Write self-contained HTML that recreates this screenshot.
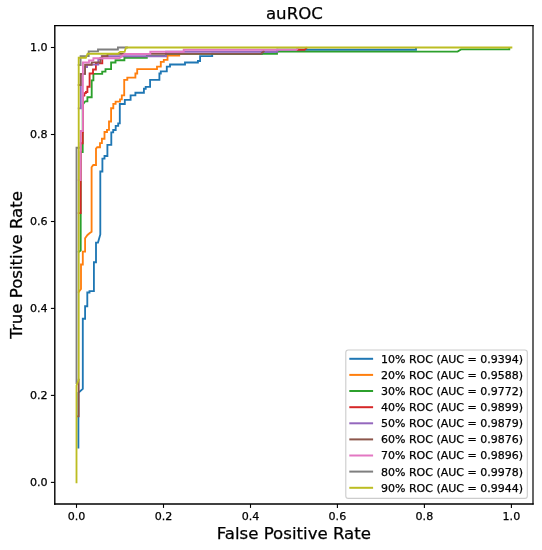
<!DOCTYPE html>
<html><head><meta charset="utf-8"><style>html,body{margin:0;padding:0;background:#fff;overflow:hidden}svg{display:block}text{stroke:#000;stroke-width:0.25px}</style></head><body>
<svg width="542" height="550" viewBox="0 0 542 550">
<rect width="542" height="550" fill="#fff"/>
<defs><clipPath id="ax"><rect x="54.8" y="25.7" width="478.2" height="478.3"/></clipPath></defs>
<g clip-path="url(#ax)" fill="none" stroke-width="1.85" stroke-linejoin="miter" stroke-linecap="square"><path d="M78.4,447.5 V392.7 L82.8,388.9 V318.7 H85.1 V306.2 H87.3 V292.5 H89.5 V291.1 H93.9 V262.2 H96 V242.6 H98 L100.3,234.4 V171.5 H102.4 V158.6 H104.5 V156 H107.4 V144.9 H111.3 V132.4 H113.2 V130 H115.7 V125.8 H118.2 V123.3 H119.8 V104 H124.8 V99.8 H130.6 V95.3 H135.4 V92.7 H143.9 V88.7 H145.7 V86.8 H150.1 V79.8 H159.4 V73.5 H160.8 V71.3 H166.8 V66.6 H170 V64.5 H185 V62.5 H197.9 V61 H200.1 V56.1 H212.2 V53.7 H262 V51.7 H277.3 V49.7 H416 V48.0" stroke="#1f77b4" /><path d="M78.7,292 L81,289 V264.5 H82.8 V251.6 H85.1 V238.3 L87.5,235 L89.5,233.3 L91.6,231.8 V167.3 L93.3,165 H96 V148.6 L97.2,147.2 H100 V143.1 H101.9 V138.7 H104.5 V132 H107 V129.8 H109 V121.5 H111.1 V108.2 H113.3 V103.8 H115.6 V101.6 H120 V99.4 H121.8 V95.3 H124.2 V79.9 H127.3 V77.6 H135.4 V73.5 H137.2 V69.1 H157 V66.6 H160.8 V61.8 H163.8 V59.9 H167.5 V55.5 H179.2 V53.7" stroke="#ff7f0e" /><path d="M78.7,252 L80.7,250.5 V152.1 H82.7 V104.8 L85.3,101.3 H87.4 V97.2 H91.7 V80.3 H93.4 V73.8 H102.2 V71.6 H105.5 V69.1 H111.1 V62.5 H115.5 V60.2 H124.4 V57.7 H146.8 V55.8 H166 V53.8 H277 V51.6 H457.6 L461,49.4 H509.3 V48.0" stroke="#2ca02c" /><path d="M78.7,213.1 H80.7 V143.2 H82.7 V132 H82.9 V96 L84.4,95.5 V93.1 H85.9 V92 H87.4 V86.7 H89.6 V73.5 H93 V69.5 H95.9 V63.3 H102.3 V58.2 M297,49.7 H304.6 L306.5,48.0" stroke="#d62728" /><path d="M78.7,108.3 H80.8 V73.8 H85.1 V67 H87.1 V64.6 H98.3 V59 H101.7 V56.2 H166 V51.7 H277.3 V49.7" stroke="#9467bd" /><path d="M77.6,416.4 H78.7 V379.6 M78.7,85 H80.7 V73.8 H85.1 V64.7 H91.7 V62.4 H100.4 V57.9 H102.2 V56.2 H107.5 V53.8 H261 L263.7,51.4" stroke="#8c564b" /><path d="M78.7,180.1 H80.7 V131 H82.9 V62.5 H89 V60.5 H93.4 V58.2 H119.4 L124.5,54 H150.3 V51.7 H183.7 V49.7 H296.5 L298.3,48.0" stroke="#e377c2" /><path d="M76.5,383 V147.7 H78.7 M78.7,65 H80.6 V56.1 H88.7 V51.4 H98 V49.5 H117.9 V47.45 H127" stroke="#7f7f7f" /><path d="M76.5,482.4 V385.6 L78.7,379.6 V57.7 H85.9 L87.6,53.7 H117.9 L120.1,51.8 H124.6 L126,47.45 H511.4" stroke="#bcbd22" /></g>
<g stroke="#000" stroke-linecap="square"><line x1="54.8" y1="25.7" x2="54.8" y2="504.0" stroke-width="1.4"/><line x1="533.0" y1="25.7" x2="533.0" y2="504.0" stroke-width="1.2"/><line x1="54.8" y1="25.7" x2="533.0" y2="25.7" stroke-width="1.3"/><line x1="54.8" y1="504.0" x2="533.0" y2="504.0" stroke-width="1.45"/></g>
<g stroke="#000" stroke-width="1.1"><line x1="76.5" y1="504.0" x2="76.5" y2="507.9"/><line x1="54.8" y1="482.4" x2="50.9" y2="482.4"/><line x1="163.5" y1="504.0" x2="163.5" y2="507.9"/><line x1="54.8" y1="395.4" x2="50.9" y2="395.4"/><line x1="250.5" y1="504.0" x2="250.5" y2="507.9"/><line x1="54.8" y1="308.4" x2="50.9" y2="308.4"/><line x1="337.4" y1="504.0" x2="337.4" y2="507.9"/><line x1="54.8" y1="221.5" x2="50.9" y2="221.5"/><line x1="424.4" y1="504.0" x2="424.4" y2="507.9"/><line x1="54.8" y1="134.5" x2="50.9" y2="134.5"/><line x1="511.4" y1="504.0" x2="511.4" y2="507.9"/><line x1="54.8" y1="47.5" x2="50.9" y2="47.5"/></g>
<g font-family='"DejaVu Sans", "Liberation Sans", sans-serif' font-size="11.1" fill="#000"><text x="76.5" y="520.2" text-anchor="middle">0.0</text><text x="47.6" y="486.3" text-anchor="end">0.0</text><text x="163.5" y="520.2" text-anchor="middle">0.2</text><text x="47.6" y="399.3" text-anchor="end">0.2</text><text x="250.5" y="520.2" text-anchor="middle">0.4</text><text x="47.6" y="312.3" text-anchor="end">0.4</text><text x="337.4" y="520.2" text-anchor="middle">0.6</text><text x="47.6" y="225.4" text-anchor="end">0.6</text><text x="424.4" y="520.2" text-anchor="middle">0.8</text><text x="47.6" y="138.4" text-anchor="end">0.8</text><text x="511.4" y="520.2" text-anchor="middle">1.0</text><text x="47.6" y="51.4" text-anchor="end">1.0</text></g>
<text x="294.4" y="19.2" text-anchor="middle" font-family='"DejaVu Sans", "Liberation Sans", sans-serif' font-size="16.6">auROC</text>
<text x="293.9" y="539.1" text-anchor="middle" font-family='"DejaVu Sans", "Liberation Sans", sans-serif' font-size="16.6">False Positive Rate</text>
<text transform="translate(21.8,264.9) rotate(-90)" x="0" y="0" text-anchor="middle" font-family='"DejaVu Sans", "Liberation Sans", sans-serif' font-size="16.6">True Positive Rate</text>
<rect x="345.8" y="350.0" width="181.49999999999994" height="148.39999999999998" rx="2.5" fill="#fff" fill-opacity="0.8" stroke="#ccc" stroke-width="1.1"/>
<line x1="349.3" y1="358.8" x2="373.1" y2="358.8" stroke="#1f77b4" stroke-width="2.0"/><text x="381.0" y="362.7" font-family='"DejaVu Sans", "Liberation Sans", sans-serif' font-size="11" fill="#000">10% ROC (AUC = 0.9394)</text><line x1="349.3" y1="374.9" x2="373.1" y2="374.9" stroke="#ff7f0e" stroke-width="2.0"/><text x="381.0" y="378.8" font-family='"DejaVu Sans", "Liberation Sans", sans-serif' font-size="11" fill="#000">20% ROC (AUC = 0.9588)</text><line x1="349.3" y1="391.0" x2="373.1" y2="391.0" stroke="#2ca02c" stroke-width="2.0"/><text x="381.0" y="394.9" font-family='"DejaVu Sans", "Liberation Sans", sans-serif' font-size="11" fill="#000">30% ROC (AUC = 0.9772)</text><line x1="349.3" y1="407.2" x2="373.1" y2="407.2" stroke="#d62728" stroke-width="2.0"/><text x="381.0" y="411.1" font-family='"DejaVu Sans", "Liberation Sans", sans-serif' font-size="11" fill="#000">40% ROC (AUC = 0.9899)</text><line x1="349.3" y1="423.3" x2="373.1" y2="423.3" stroke="#9467bd" stroke-width="2.0"/><text x="381.0" y="427.2" font-family='"DejaVu Sans", "Liberation Sans", sans-serif' font-size="11" fill="#000">50% ROC (AUC = 0.9879)</text><line x1="349.3" y1="439.4" x2="373.1" y2="439.4" stroke="#8c564b" stroke-width="2.0"/><text x="381.0" y="443.3" font-family='"DejaVu Sans", "Liberation Sans", sans-serif' font-size="11" fill="#000">60% ROC (AUC = 0.9876)</text><line x1="349.3" y1="455.5" x2="373.1" y2="455.5" stroke="#e377c2" stroke-width="2.0"/><text x="381.0" y="459.4" font-family='"DejaVu Sans", "Liberation Sans", sans-serif' font-size="11" fill="#000">70% ROC (AUC = 0.9896)</text><line x1="349.3" y1="471.6" x2="373.1" y2="471.6" stroke="#7f7f7f" stroke-width="2.0"/><text x="381.0" y="475.5" font-family='"DejaVu Sans", "Liberation Sans", sans-serif' font-size="11" fill="#000">80% ROC (AUC = 0.9978)</text><line x1="349.3" y1="487.8" x2="373.1" y2="487.8" stroke="#bcbd22" stroke-width="2.0"/><text x="381.0" y="491.7" font-family='"DejaVu Sans", "Liberation Sans", sans-serif' font-size="11" fill="#000">90% ROC (AUC = 0.9944)</text>
</svg>
</body></html>
